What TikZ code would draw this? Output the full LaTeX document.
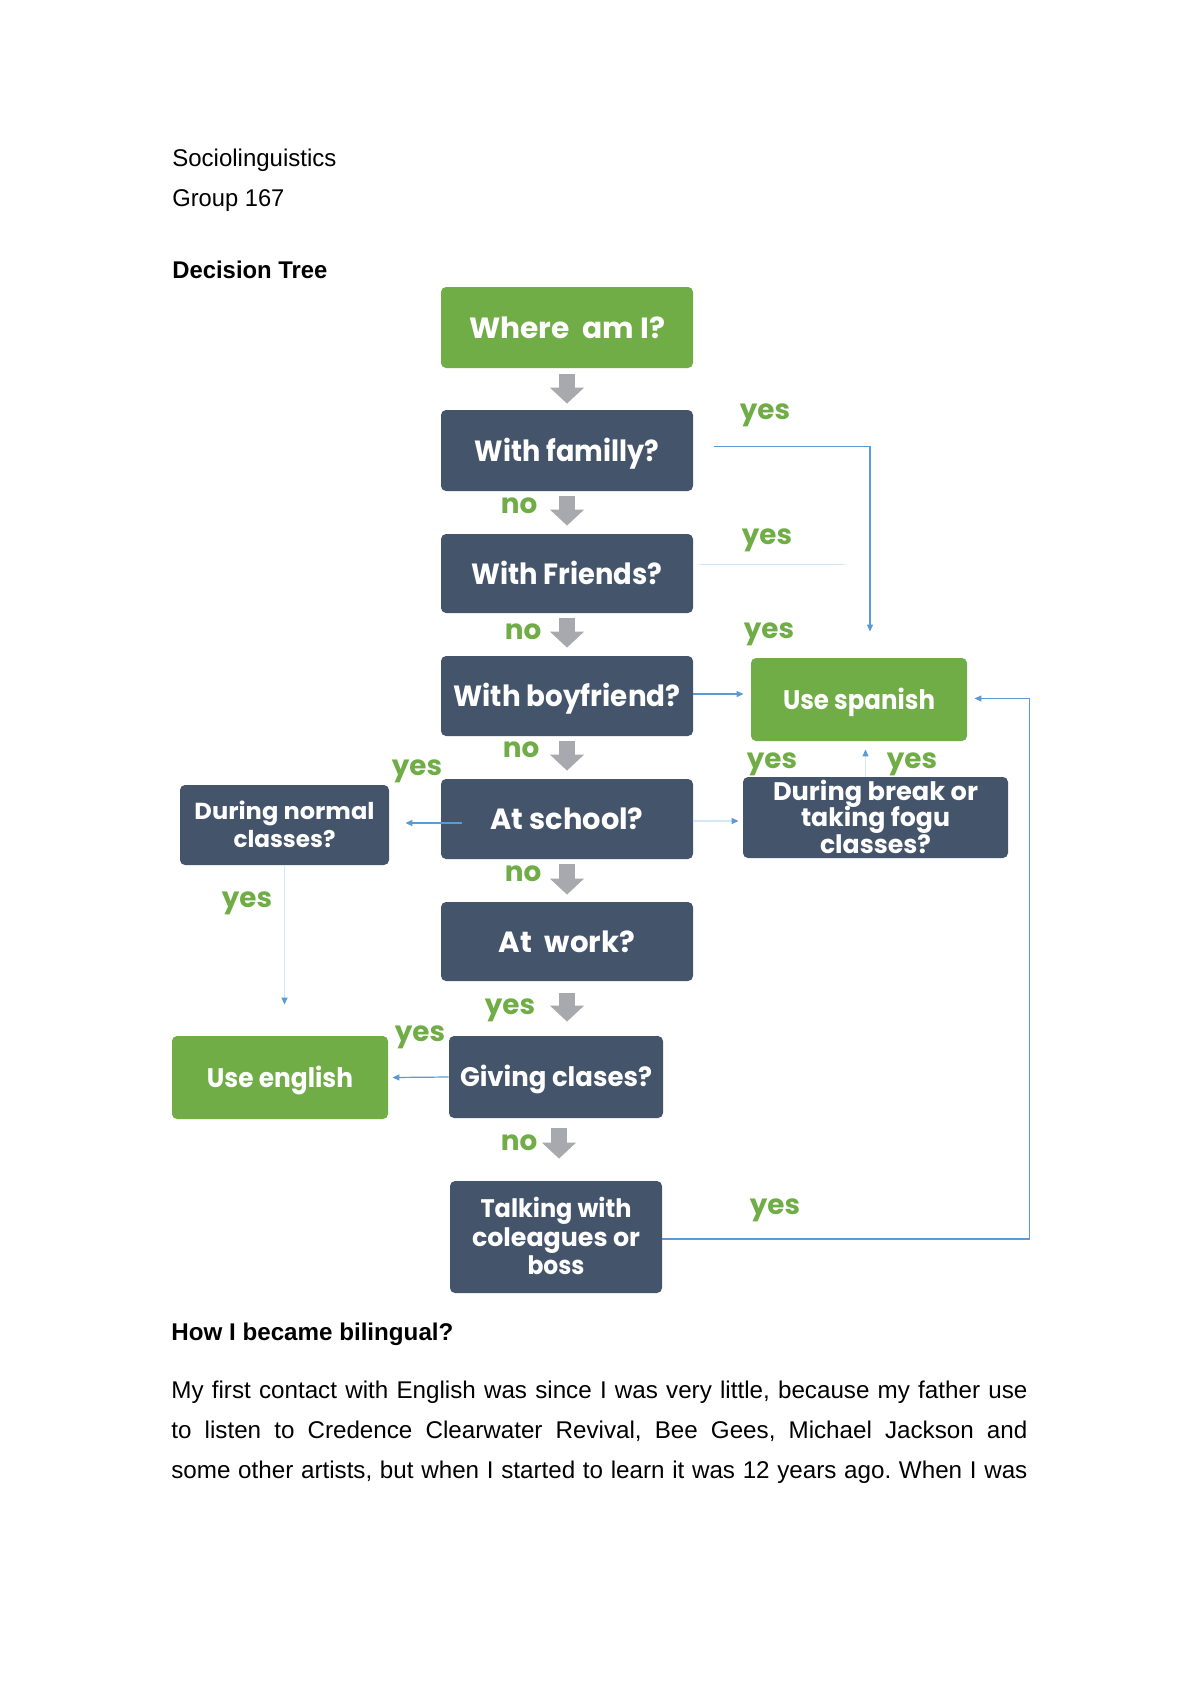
\documentclass[tikz,border=0pt]{standalone}
\usepackage{fontspec}
\setmainfont{Liberation Sans}
\newfontfamily\boxfont{Poppins}
\usepackage{graphicx}
\usetikzlibrary{arrows.meta,calc}
\frenchspacing
\newdimen\px \px=0.49606pt
\definecolor{cgreen}{HTML}{70AD47}
\definecolor{cdark}{HTML}{44546A}
\definecolor{cgray}{HTML}{A7A9AE}
\definecolor{cblue}{HTML}{5B9BD5}
\definecolor{cfaint}{HTML}{D2E8F6}
\newcommand\fw[2]{\resizebox{#1\px}{\height}{#2}}
\newcommand\oneline[3]{\raisebox{0pt}[#1\px][0pt]{\fw{#2}{#3}}}
\newcommand\mlines[4]{\raisebox{0pt}[#1\px][#2\px]{\vtop{\baselineskip=#3\px\lineskiplimit=-1000pt\lineskip=0pt\halign{\hfil##\hfil\cr#4\crcr}}}}
\tikzset{
  box/.style={rounded corners=2.5pt, inner sep=0pt, text=white},
  gbox/.style={box, fill=cgreen},
  dbox/.style={box, fill=cdark},
  big/.style={font=\boxfont\bfseries\fontsize{14.5}{17}\selectfont},
  mid/.style={font=\boxfont\bfseries\fontsize{13.3}{16}\selectfont},
  sml/.style={font=\boxfont\bfseries\fontsize{12.6}{15}\selectfont},
  lab/.style={font=\boxfont\bfseries\fontsize{13.8}{15}\selectfont, text=cgreen, inner sep=0pt, anchor=base},
  blockarr/.style={draw=cgray, line width=8.4pt, -{Triangle[length=7.9pt,width=16.4pt]}},
  conn/.style={draw=cblue, line width=0.6pt, -{Triangle[length=3.5pt,width=3pt]}},
  connf/.style={draw=cfaint, line width=0.6pt, -{Triangle[length=3.5pt,width=3pt,color=cblue]}},
  faint/.style={draw=cfaint, line width=0.6pt},
  plain/.style={anchor=base west, inner sep=0pt, font=\fontsize{12}{14}\selectfont},
}
\begin{document}
\begin{tikzpicture}[x=\px, y=-\px]
\useasboundingbox[fill=white] (0,0) rectangle (1200,1698);

% header text
\node[plain] (h1) at (172,166) {\fw{164}{Sociolinguistics}};
\node[plain] (h2) at (172,206) {\fw{112}{Group 167}};
\node[plain] (h3) at (172,278) {\fw{155}{\bfseries Decision Tree}};

% main column
\node[gbox, big, minimum width=252\px, minimum height=81\px] (where) at (567,327.5) {\oneline{21}{196}{Where\ \ am I?}};
\node[dbox, big, minimum width=252\px, minimum height=81\px] (family) at (567,450.5) {\oneline{21}{184}{With familly?}};
\node[dbox, big, minimum width=252\px, minimum height=79\px] (friends) at (567,573.5) {\oneline{21}{191}{With Friends?}};
\node[dbox, big, minimum width=252\px, minimum height=80\px] (boyfriend) at (567,696) {\oneline{21}{227}{With boyfriend?}};
\node[dbox, big, minimum width=252\px, minimum height=80\px] (school) at (567,819) {\oneline{21}{153}{At school?}};
\node[dbox, big, minimum width=252\px, minimum height=79\px] (work) at (567,941.5) {\oneline{21}{136}{At\ \ work?}};
\node[dbox, mid, minimum width=214\px, minimum height=82\px] (giving) at (556,1077) {\oneline{19}{192}{Giving clases?}};
\node[dbox, sml, minimum width=212\px, minimum height=112\px] (talking) at (556,1237) {\mlines{18}{57}{28.5}{\fw{151}{Talking with}\cr\fw{168}{coleagues or}\cr\fw{57}{boss}}};

% side boxes
\node[gbox, mid, minimum width=216\px, minimum height=83\px] (spanish) at (859,699.5) {\oneline{19}{152}{Use spanish}};
\node[dbox, sml, minimum width=265\px, minimum height=81\px] (brk) at (875.5,817.5) {\mlines{18}{53}{26.5}{\fw{205}{During break or}\cr\fw{149}{taking fogu}\cr\fw{111}{classes?}}};
\node[dbox, font=\boxfont\bfseries\fontsize{11.5}{14}\selectfont, minimum width=209\px, minimum height=80\px] (normal) at (284.5,825) {\mlines{16}{28}{28}{\fw{180}{During normal}\cr\fw{102}{classes?}}};
\node[gbox, mid, minimum width=216\px, minimum height=83\px] (english) at (280,1077.5) {\oneline{19}{146}{Use english}};

% grey block arrows
\draw[blockarr] ($(where.south)+(0,6)$) -- ($(family.north)+(0,-6)$);
\draw[blockarr] ($(family.south)+(0,5)$) -- ($(friends.north)+(0,-8)$);
\draw[blockarr] ($(friends.south)+(0,5)$) -- ($(boyfriend.north)+(0,-8)$);
\draw[blockarr] ($(boyfriend.south)+(0,5)$) -- ($(school.north)+(0,-8)$);
\draw[blockarr] ($(school.south)+(0,5)$) -- ($(work.north)+(0,-7)$);
\draw[blockarr] ($(work.south)+(0,12)$) -- ($(giving.north -| work.south)+(0,-14)$);
\draw[blockarr] ($(giving.south)+(3,10)$) -- ($(talking.north -| giving.south)+(3,-22)$);

% blue connectors
\draw[conn] ($(family.east)+(21,-4)$) -| ($(spanish.north)+(11,-26)$);
\draw[faint] ($(friends.east)+(6,-9)$) -- ($(friends.east)+(152,-9)$);
\draw[conn] ($(boyfriend.east)+(0,-2)$) -- ($(spanish.west |- boyfriend.east)+(-7,-2)$);
\draw[conn] ($(school.west)+(21,4)$) -- ($(normal.east |- school.west)+(16,4)$);
\draw[connf] ($(school.east)+(0,2)$) -- ($(brk.west |- school.east)+(-4,2)$);
\draw[connf] ($(brk.north)+(-10,0)$) -- ($(spanish.south -| brk.north)+(-10,8)$);
\draw[connf] (normal.south) -- ($(english.north -| normal.south)+(0,-31)$);
\draw[conn] (giving.west) -- ($(english.east)+(4,0)$);
\draw[conn] ($(talking.east)+(0,2)$) -- ($(talking.east)+(367,2)$) |- ($(spanish.east)+(7,-1)$);

% labels
\node[lab] (l1) at (765,419) {yes};
\node[lab] (l2) at (767,544) {yes};
\node[lab] (l3) at (769,638) {yes};
\node[lab] (l4) at (417,775) {yes};
\node[lab] (l5) at (772,768) {yes};
\node[lab] (l6) at (912,768) {yes};
\node[lab] (l7) at (247,907) {yes};
\node[lab] (l8) at (420,1041) {yes};
\node[lab] (l9) at (775,1214) {yes};
\node[lab] (l10) at (510,1014) {yes};
\node[lab] (n1) at (519,513) {no};
\node[lab] (n2) at (523,639) {no};
\node[lab] (n3) at (521,757) {no};
\node[lab] (n4) at (523,881) {no};
\node[lab] (n5) at (519,1150) {no};

% bottom text
\node[plain] (h4) at (171,1340) {\fw{282}{\bfseries How I became bilingual?}};
\node[plain] (p1) at (171,1398) {\makebox[856\px][s]{My first contact with English was since I was very little, because my father use}};
\node[plain] (p2) at (171,1438) {\makebox[856\px][s]{to listen to Credence Clearwater Revival, Bee Gees, Michael Jackson and}};
\node[plain] (p3) at (171,1478) {\makebox[856\px][s]{some other artists, but when I started to learn it was 12 years ago. When I was}};
\end{tikzpicture}
\end{document}
